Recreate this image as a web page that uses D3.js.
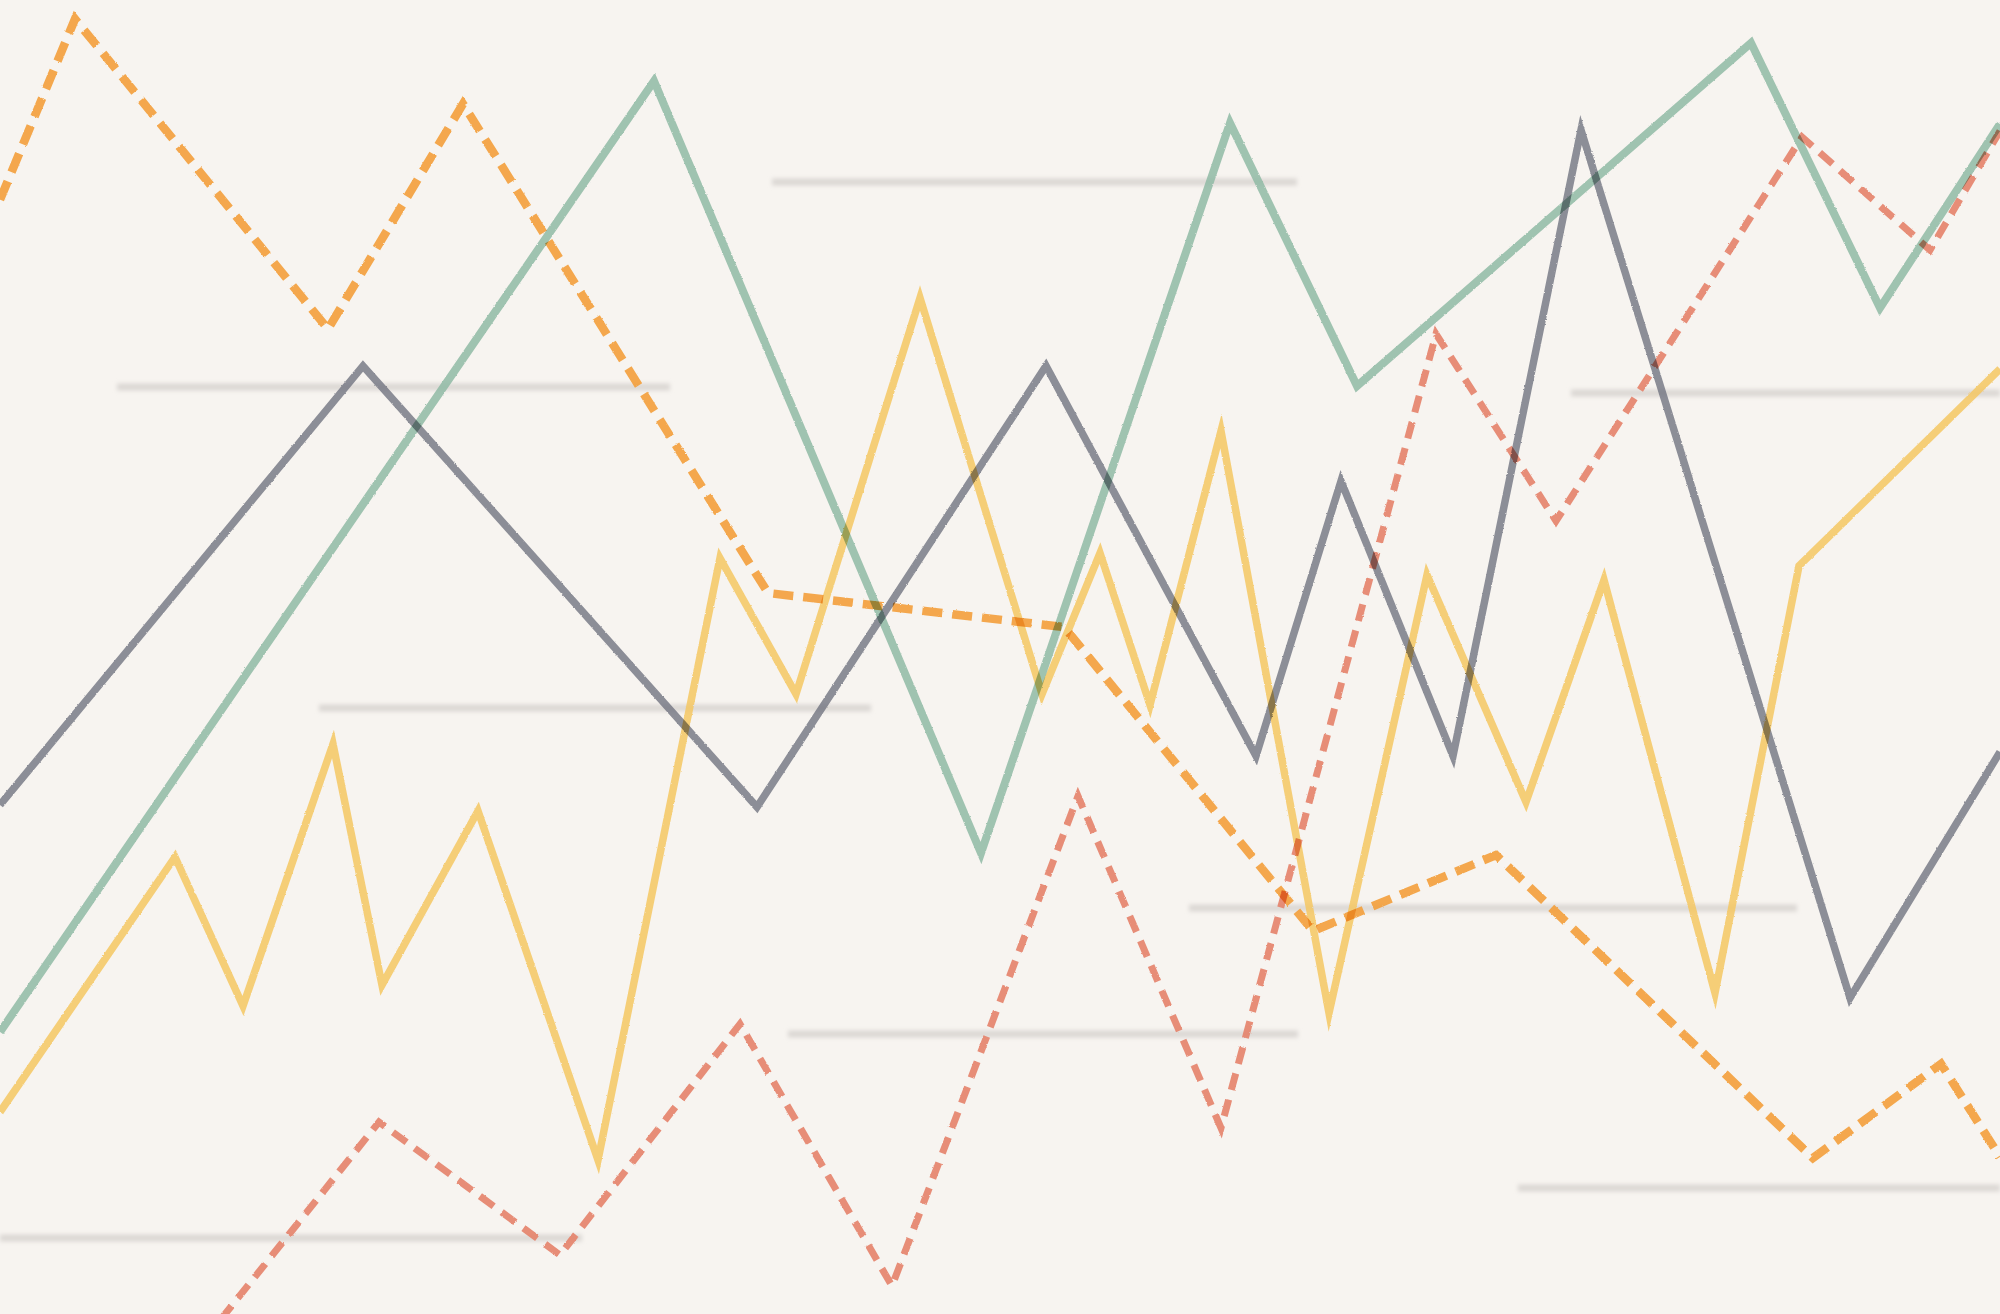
<!DOCTYPE html>
<html>
<head>
<meta charset="utf-8">
<script src="https://cdn.jsdelivr.net/npm/d3@7"></script>
<style>
html,body{margin:0;padding:0;background:#f7f4f0;overflow:hidden;}
svg{display:block;}
</style>
</head>
<body>
<svg id="chart" width="2000" height="1314"></svg>
<script>
// ---- data (x: 0-100 along the run, y: 0-100 value) ----
const orangeX = [0, 3.75, 16.4, 23.15, 38.4, 53.2, 65.65, 74.8, 90.65, 97.05, 100];
const orangeY = [84.8, 98.55, 74.96, 92.09, 54.87, 52.28, 29.15, 34.93, 11.87, 19.03, 11.95];

const greenX = [0, 32.7, 49.05, 61.5, 67.85, 87.55, 94.0, 100];
const greenY = [21.46, 93.84, 35.08, 90.64, 70.62, 96.73, 76.56, 90.56];

const slateX = [0, 18.15, 37.85, 52.3, 62.8, 67.05, 72.65, 79.05, 92.5, 100];
const slateY = [38.74, 72.15, 38.58, 72.15, 42.47, 63.39, 42.47, 90.11, 24.05, 42.77];

const yellowX = [0, 8.75, 12.15, 16.65, 19.1, 23.9, 29.9, 36.0, 39.8, 46.0, 52.1, 55.0, 57.5, 61.05, 66.45, 71.35, 76.3, 80.2, 85.75, 89.95, 100];
const yellowY = [15.37, 34.78, 23.44, 43.38, 25.04, 38.28, 11.72, 57.53, 47.18, 77.32, 47.18, 57.91, 46.35, 67.20, 22.91, 56.24, 38.96, 55.86, 24.43, 56.93, 71.92];

const coralX = [10.2, 18.95, 28.0, 37.0, 44.6, 53.9, 61.05, 71.8, 77.8, 90.1, 96.5, 100];
const coralY = [-2.0, 14.61, 4.49, 22.07, 2.13, 39.42, 14.16, 74.58, 60.35, 89.57, 80.97, 90.03];

// reference bands: start, end, level
const bandStart = [38.6, 5.85, 78.55, 15.95, 59.45, 39.4, 0, 75.9];
const bandEnd   = [64.85, 33.5, 100, 43.55, 89.85, 64.9, 29.1, 100];
const bandLevel = [86.15, 70.55, 70.09, 46.12, 30.90, 21.31, 5.78, 9.59];

// ---- drawing ----
const W = 2000, H = 1314;
const svg = d3.select("#chart");
const x = d3.scaleLinear().domain([0, 100]).range([0, W]);
const y = d3.scaleLinear().domain([0, 100]).range([H, 0]);

const defs = svg.append("defs");
const pencil = defs.append("filter").attr("id", "pencil")
  .attr("x", "-5%").attr("y", "-5%").attr("width", "110%").attr("height", "110%");
pencil.append("feTurbulence").attr("type", "fractalNoise").attr("baseFrequency", 0.9)
  .attr("numOctaves", 2).attr("seed", 3).attr("result", "noise");
pencil.append("feDisplacementMap").attr("in", "SourceGraphic").attr("in2", "noise")
  .attr("scale", 2.0).attr("xChannelSelector", "R").attr("yChannelSelector", "G");

const blur = defs.append("filter").attr("id", "soft")
  .attr("x", "-5%").attr("y", "-200%").attr("width", "110%").attr("height", "500%");
blur.append("feGaussianBlur").attr("stdDeviation", 2.2);

svg.append("rect").attr("width", W).attr("height", H).attr("fill", "#f7f4f0");

// bands
const bands = bandStart.map((s, i) => ({s, e: bandEnd[i], v: bandLevel[i]}));
svg.append("g").attr("filter", "url(#soft)")
  .selectAll("line").data(bands).join("line")
  .attr("x1", d => x(d.s)).attr("x2", d => x(d.e))
  .attr("y1", d => y(d.v)).attr("y2", d => y(d.v))
  .attr("stroke", "#dbd8d4").attr("stroke-width", 7).attr("stroke-linecap", "butt");

const series = [
  {xs: greenX,  ys: greenY,  color: "#8fbaa5", w: 8,   dash: null,   op: 0.85},
  {xs: yellowX, ys: yellowY, color: "#f4c762", w: 7.5, dash: null,   op: 0.85},
  {xs: slateX,  ys: slateY,  color: "#6e717e", w: 7.5, dash: null,   op: 0.78},
  {xs: coralX,  ys: coralY,  color: "#e4826a", w: 7,   dash: "17,10", op: 0.9},
  {xs: orangeX, ys: orangeY, color: "#f39f3a", w: 8.5, dash: "20,10", op: 0.9}
];

const line = d3.line().x(d => x(d[0])).y(d => y(d[1]));

const g = svg.append("g").attr("filter", "url(#pencil)");
series.forEach(s => {
  const pts = s.xs.map((v, i) => [v, s.ys[i]]);
  g.append("path").datum(pts)
    .attr("d", line)
    .attr("fill", "none")
    .attr("stroke", s.color)
    .attr("stroke-width", s.w)
    .attr("stroke-opacity", s.op)
    .attr("stroke-linejoin", "miter")
    .attr("stroke-miterlimit", 10)
    .attr("stroke-linecap", "butt")
    .attr("stroke-dasharray", s.dash)
    .style("mix-blend-mode", "multiply");
});
</script>
</body>
</html>
